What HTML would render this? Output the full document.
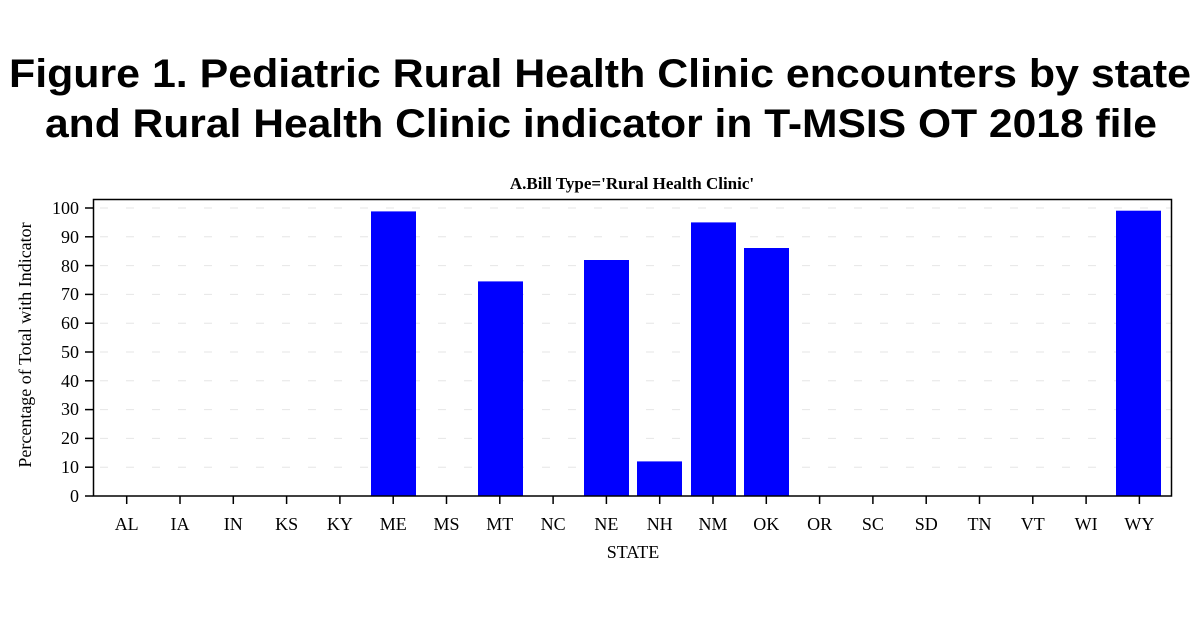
<!DOCTYPE html>
<html><head><meta charset="utf-8"><style>
html,body{margin:0;padding:0;background:#fff;width:1200px;height:628px;overflow:hidden}
</style></head><body>
<svg width="1200" height="628" viewBox="0 0 1200 628" xmlns="http://www.w3.org/2000/svg">
<g font-family="Liberation Sans, sans-serif" font-weight="bold" font-size="40" fill="#000" text-anchor="middle">
<text x="600" y="87" textLength="1182" lengthAdjust="spacingAndGlyphs">Figure 1. Pediatric Rural Health Clinic encounters by state</text>
<text x="601" y="137" textLength="1112" lengthAdjust="spacingAndGlyphs">and Rural Health Clinic indicator in T-MSIS OT 2018 file</text>
</g>
<text x="632" y="189" font-family="Liberation Serif, serif" font-weight="bold" font-size="17" text-anchor="middle">A.Bill Type='Rural Health Clinic'</text>
<g stroke="#e6e6e6" stroke-width="1" stroke-dasharray="8,18">
<line x1="100" y1="467.2" x2="1172" y2="467.2"/>
<line x1="100" y1="438.4" x2="1172" y2="438.4"/>
<line x1="100" y1="409.6" x2="1172" y2="409.6"/>
<line x1="100" y1="380.8" x2="1172" y2="380.8"/>
<line x1="100" y1="352" x2="1172" y2="352"/>
<line x1="100" y1="323.2" x2="1172" y2="323.2"/>
<line x1="100" y1="294.4" x2="1172" y2="294.4"/>
<line x1="100" y1="265.6" x2="1172" y2="265.6"/>
<line x1="100" y1="236.8" x2="1172" y2="236.8"/>
<line x1="100" y1="208" x2="1172" y2="208"/>
</g>
<g fill="#0000ff">
<rect x="371" y="211.4" width="45" height="284.6"/>
<rect x="478" y="281.4" width="45" height="214.6"/>
<rect x="584" y="260" width="45" height="236"/>
<rect x="637" y="461.4" width="45" height="34.6"/>
<rect x="691" y="222.4" width="45" height="273.6"/>
<rect x="744" y="248" width="45" height="248"/>
<rect x="1116" y="210.7" width="45" height="285.3"/>
</g>
<rect x="93.5" y="199.5" width="1078" height="296.5" fill="none" stroke="#000" stroke-width="1.5"/>
<g stroke="#000" stroke-width="1.5">
<line x1="85" y1="496" x2="93" y2="496"/><line x1="85" y1="467.2" x2="93" y2="467.2"/>
<line x1="85" y1="438.4" x2="93" y2="438.4"/><line x1="85" y1="409.6" x2="93" y2="409.6"/>
<line x1="85" y1="380.8" x2="93" y2="380.8"/><line x1="85" y1="352" x2="93" y2="352"/>
<line x1="85" y1="323.2" x2="93" y2="323.2"/><line x1="85" y1="294.4" x2="93" y2="294.4"/>
<line x1="85" y1="265.6" x2="93" y2="265.6"/><line x1="85" y1="236.8" x2="93" y2="236.8"/>
<line x1="85" y1="208" x2="93" y2="208"/>
</g>
<g font-family="Liberation Serif, serif" font-size="18" text-anchor="end">
<text x="79" y="502">0</text><text x="79" y="473">10</text><text x="79" y="444">20</text>
<text x="79" y="415">30</text><text x="79" y="387">40</text><text x="79" y="358">50</text>
<text x="79" y="329">60</text><text x="79" y="300">70</text><text x="79" y="272">80</text>
<text x="79" y="243">90</text><text x="79" y="214">100</text>
</g>
<text transform="translate(31,345) rotate(-90)" font-family="Liberation Serif, serif" font-size="18" text-anchor="middle">Percentage of Total with Indicator</text>
<g font-family="Liberation Serif, serif" font-size="18" text-anchor="middle">
<text x="126.7" y="530">AL</text><text x="180" y="530">IA</text><text x="233.3" y="530">IN</text>
<text x="286.6" y="530">KS</text><text x="339.9" y="530">KY</text><text x="393.2" y="530">ME</text>
<text x="446.5" y="530">MS</text><text x="499.8" y="530">MT</text><text x="553.1" y="530">NC</text>
<text x="606.4" y="530">NE</text><text x="659.7" y="530">NH</text><text x="713" y="530">NM</text>
<text x="766.3" y="530">OK</text><text x="819.6" y="530">OR</text><text x="872.9" y="530">SC</text>
<text x="926.2" y="530">SD</text><text x="979.5" y="530">TN</text><text x="1032.8" y="530">VT</text>
<text x="1086.1" y="530">WI</text><text x="1139.4" y="530">WY</text>
</g>
<g stroke="#000" stroke-width="1.5">
<line x1="126.7" y1="496" x2="126.7" y2="504"/><line x1="180" y1="496" x2="180" y2="504"/>
<line x1="233.3" y1="496" x2="233.3" y2="504"/><line x1="286.6" y1="496" x2="286.6" y2="504"/>
<line x1="339.9" y1="496" x2="339.9" y2="504"/><line x1="393.2" y1="496" x2="393.2" y2="504"/>
<line x1="446.5" y1="496" x2="446.5" y2="504"/><line x1="499.8" y1="496" x2="499.8" y2="504"/>
<line x1="553.1" y1="496" x2="553.1" y2="504"/><line x1="606.4" y1="496" x2="606.4" y2="504"/>
<line x1="659.7" y1="496" x2="659.7" y2="504"/><line x1="713" y1="496" x2="713" y2="504"/>
<line x1="766.3" y1="496" x2="766.3" y2="504"/><line x1="819.6" y1="496" x2="819.6" y2="504"/>
<line x1="872.9" y1="496" x2="872.9" y2="504"/><line x1="926.2" y1="496" x2="926.2" y2="504"/>
<line x1="979.5" y1="496" x2="979.5" y2="504"/><line x1="1032.8" y1="496" x2="1032.8" y2="504"/>
<line x1="1086.1" y1="496" x2="1086.1" y2="504"/><line x1="1139.4" y1="496" x2="1139.4" y2="504"/>
</g>
<text x="633" y="558" font-family="Liberation Serif, serif" font-size="18" text-anchor="middle">STATE</text>
</svg>
</body></html>
